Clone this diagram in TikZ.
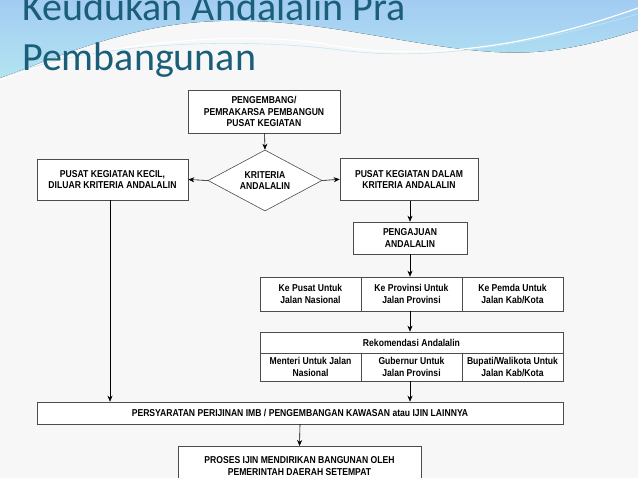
\documentclass[tikz,border=0pt]{standalone}
\usepackage{fontspec}
\setmainfont{Liberation Sans}
\newfontfamily\titlefont{Carlito}
\newfontfamily\narrow[FakeStretch=0.86]{Liberation Sans}
\usetikzlibrary{shapes.geometric,arrows.meta}
\definecolor{ttl}{HTML}{1B5E7A}
\definecolor{sw}{HTML}{7FD3E6}
\begin{document}
\begin{tikzpicture}[x=1pt,y=-1pt,
  box/.style={draw=black!70,fill=white,line width=0.6pt,align=center,font=\narrow\bfseries\fontsize{10}{11.5}\selectfont,inner sep=1pt},
  arr/.style={-{Stealth[length=6pt,width=5pt]},line width=0.6pt}]
\useasboundingbox (0,0) rectangle (638,478);
\fill[black!3] (0,0) rectangle (638,478);
% swoosh
\fill[top color=sw!80!blue!60,bottom color=sw!60] (0,0) -- (638,0) -- (638,30) .. controls (560,55) and (520,55) .. (470,50) .. controls (380,40) and (300,15) .. (200,22) .. controls (120,28) and (50,60) .. (0,78) -- cycle;
\draw[white,line width=1.2pt] (0,80) .. controls (100,40) and (250,30) .. (330,45) .. controls (420,60) and (520,50) .. (638,8);
\draw[sw!50!white,line width=0.6pt] (10,75) .. controls (100,40) and (250,38) .. (340,50) .. controls (430,62) and (530,45) .. (638,14);
\node[anchor=base west,font=\titlefont\fontsize{40}{42}\selectfont,text=ttl,inner sep=0] at (22,21) {Keudukan Andalalin Pra};
\node[anchor=base west,font=\titlefont\fontsize{40}{42}\selectfont,text=ttl,inner sep=0] at (22,71) {Pembangunan};
% boxes
\node[box,minimum width=152,minimum height=43] (top) at (264,111.5) {PENGEMBANG/\\PEMRAKARSA PEMBANGUN\\PUSAT KEGIATAN};
\node[box,minimum width=151,minimum height=41] (left) at (112.5,179.5) {PUSAT KEGIATAN KECIL,\\DILUAR KRITERIA ANDALALIN};
\node[box,diamond,aspect=1.87,minimum width=114,minimum height=61,inner sep=0] (dia) at (265,180.5) {KRITERIA\\ANDALALIN};
\node[box,minimum width=138,minimum height=42,anchor=north] (right) at (409,158) {PUSAT KEGIATAN DALAM\\KRITERIA ANDALALIN};
\node[box,minimum width=114,minimum height=32] (peng) at (410,238) {PENGAJUAN\\ANDALALIN};
\node[box,minimum width=101,minimum height=34] (r1) at (310.5,294) {Ke Pusat Untuk\\Jalan Nasional};
\node[box,minimum width=101,minimum height=34] (r2) at (411.5,294) {Ke Provinsi Untuk\\Jalan Provinsi};
\node[box,minimum width=101,minimum height=34] (r3) at (512.5,294) {Ke Pemda Untuk\\Jalan Kab/Kota};
\node[box,minimum width=303,minimum height=21] (rek) at (411.5,342.5) {Rekomendasi Andalalin};
\node[box,minimum width=101,minimum height=28] (b1) at (310.5,367) {Menteri Untuk Jalan\\Nasional};
\node[box,minimum width=101,minimum height=28] (b2) at (411.5,367) {Gubernur Untuk\\Jalan Provinsi};
\node[box,minimum width=101,minimum height=28] (b3) at (512.5,367) {Bupati/Walikota Untuk\\Jalan Kab/Kota};
\node[box,minimum width=526,minimum height=22] (per) at (300,413) {PERSYARATAN PERIJINAN IMB / PENGEMBANGAN KAWASAN atau IJIN LAINNYA};
\node[box,minimum width=243,minimum height=40,anchor=north] (pro) at (299.5,446) {PROSES IJIN MENDIRIKAN BANGUNAN OLEH\\PEMERINTAH DAERAH SETEMPAT};
% arrows
\draw[arr] (top) -- (dia.north);
\draw[arr] (dia.west) -- (left.east);
\draw[arr] (dia.east) -- (right.west);
\draw[arr] (right.south -| peng.north) -- (peng.north);
\draw[arr] (peng.south) -- (r2.north -| peng.south);
\draw[arr] (r2.south -| peng.south) -- (rek.north -| peng.south);
\draw[arr] (b2.south -| peng.south) -- (per.north -| peng.south);
\draw[arr] (left.south -| 110,0) -- (per.north -| 110,0);
\draw[arr] (per.south) -- (pro.north);
\end{tikzpicture}
\end{document}
